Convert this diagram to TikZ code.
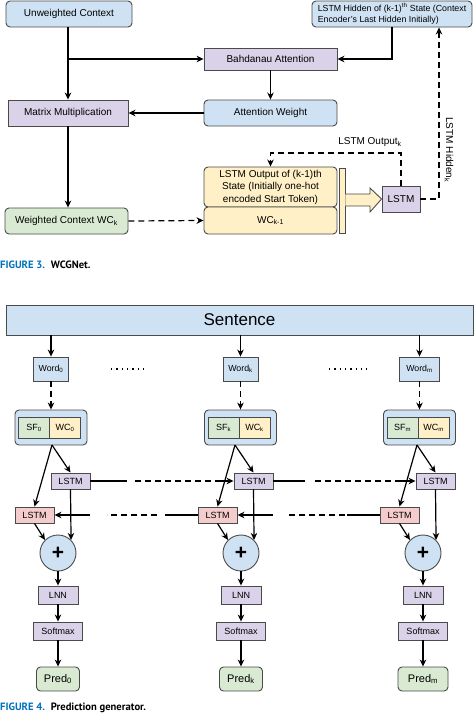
\documentclass[tikz,border=0pt]{standalone}
\usepackage{fontspec}
\setmainfont{Liberation Sans}
\newfontfamily\capfont{PT Sans}
\usetikzlibrary{arrows.meta,calc}
\definecolor{cblue}{HTML}{CFE2F3}
\definecolor{cpurple}{HTML}{D9D2E9}
\definecolor{cgreen}{HTML}{D9EAD3}
\definecolor{cyellow}{HTML}{FFF0C8}
\definecolor{cpink}{HTML}{F4CCCC}
\definecolor{bord}{HTML}{4A4A4A}
\definecolor{capblue}{RGB}{0,114,188}
\tikzset{
  bx/.style={draw=bord, line width=0.9pt, inner sep=0pt, align=center, font=\fontsize{10}{12.5}\selectfont},
  rbx/.style={bx, rounded corners=4pt},
  blu/.style={fill=cblue}, pur/.style={fill=cpurple}, grn/.style={fill=cgreen},
  yel/.style={fill=cyellow}, pnk/.style={fill=cpink},
  ln/.style={line width=1.2pt, black},
  arr/.style={ln, -{Stealth[length=7pt,width=6.5pt,inset=2.2pt]}},
  dl/.style={ln, dash pattern=on 6pt off 4pt},
  darr/.style={arr, dash pattern=on 6pt off 4pt},
  lbl/.style={font=\fontsize{10}{12}\selectfont, inner sep=0pt},
  capstyle/.style={anchor=west, inner sep=0pt, font=\capfont\bfseries\fontsize{10.6}{12}\selectfont}
}
\begin{document}
\begin{tikzpicture}[x=1pt,y=-1pt]
\useasboundingbox (0,0) rectangle (474,723);
% ---------------- Figure 3 ----------------
\node[rbx,blu,minimum width=126pt,minimum height=26pt] (uc) at (69,14) {Unweighted Context};
\node[rbx,blu,minimum width=160pt,minimum height=26pt,font=\fontsize{8.8}{11}\selectfont,align=left] (lh) at (392,14) {LSTM Hidden of (k-1)\textsuperscript{th} State (Context\\Encoder's Last Hidden Initially)};
\node[bx,pur,minimum width=133pt,minimum height=22pt] (ba) at (270.5,59) {Bahdanau Attention};
\node[bx,pur,minimum width=120pt,minimum height=26pt] (mm) at (68,113) {Matrix Multiplication};
\node[rbx,blu,minimum width=133pt,minimum height=26pt] (aw) at (270.5,113) {Attention Weight};
\node[rbx,grn,minimum width=123pt,minimum height=26pt] (wc) at (66.5,221) {Weighted Context WC\textsubscript{k}};
\node[rbx,yel,minimum width=133pt,minimum height=40pt] (lo) at (270.5,187) {LSTM Output of (k-1)th\\State (Initially one-hot\\encoded Start Token)};
\node[rbx,yel,minimum width=133pt,minimum height=27pt] (wk) at (270.5,220.5) {WC\textsubscript{k-1}};
\node[bx,yel,minimum width=6pt,minimum height=65pt] (bar) at (342,200.5) {};
\node[bx,pur,minimum width=38pt,minimum height=26pt] (ls) at (401,199) {LSTM};
\draw[draw=bord,fill=cyellow,line width=0.9pt] (bar.east |- 0,194) -- (370,194) -- (370,188) -- (ls.west) -- (370,212) -- (370,206) -- (bar.east |- 0,206);
\coordinate (ucb) at (68,27);
\draw[arr] (ucb) -- (mm.north);
\draw[arr] (ucb) |- (ba.west);
\draw[arr] (lh.south) |- (ba.east);
\draw[arr] (ba.south) -- (aw.north);
\draw[arr] (aw.west) -- (mm.east);
\draw[arr] (mm.south) -- (mm.south |- wc.north);
\draw[darr] (wc.east) -- (wk.west);
\coordinate (lo1) at (401,153);
\draw[darr] (ls.north) -- (lo1) -| (lo.north);
\node[lbl] (lok) at (370,142) {LSTM Output\textsubscript{k}};
\coordinate (lh1) at (439,199);
\draw[darr] (ls.east) -- (lh1) -- (lh1 |- lh.south);
\node[lbl,rotate=-90] (lhk) at (449,150) {LSTM Hidden\textsubscript{k}};
\node[capstyle] (cap3) at (0,265) {\textcolor{capblue}{FIGURE 3.}\hspace{6pt}WCGNet.};
% ---------------- Figure 4 ----------------
\node[bx,blu,minimum width=467pt,minimum height=30pt,font=\fontsize{17}{20}\selectfont] (sent) at (239.5,320) {Sentence};
\draw[line width=1.2pt,dash pattern=on 1.3pt off 4pt] (111,369) -- (148,369);
\draw[line width=1.2pt,dash pattern=on 1.3pt off 4pt] (329,369) -- (367,369);
\foreach \n/\gx/\cx/\ww/\pw in {0/51/58/35/43, k/240.5/241/35/43, m/419.5/423/40/50}{
  \node[bx,blu,minimum width=\ww pt,minimum height=24pt,font=\fontsize{8.8}{10}\selectfont] (w\n) at (\gx,369) {Word\textsubscript{\n}};
  \draw[arr] (sent.south -| w\n.north) -- (w\n.north);
  \node[rbx,blu,minimum width=72pt,minimum height=35pt] (g\n) at (\gx,427.5) {};
  \node[bx,grn,minimum width=31pt,minimum height=21pt,font=\fontsize{9}{10}\selectfont] (sf\n) at (\gx-17,427.5) {SF\textsubscript{\n}};
  \node[bx,yel,minimum width=31pt,minimum height=21pt,font=\fontsize{9}{10}\selectfont] (wc\n) at (\gx+14,427.5) {WC\textsubscript{\n}};
  \draw[darr] (w\n.south) -- (g\n.north);
  \node[bx,pur,minimum width=39pt,minimum height=16pt,font=\fontsize{9}{10}\selectfont] (u\n) at (\cx+12.5,481) {LSTM};
  \node[bx,pnk,minimum width=39pt,minimum height=16pt,font=\fontsize{9}{10}\selectfont] (l\n) at (\cx-23.5,515) {LSTM};
  \node[draw=bord,line width=0.9pt,fill=cblue,circle,minimum size=36pt,inner sep=0pt,font=\bfseries\fontsize{21}{21}\selectfont] (c\n) at (\cx,553) {+};
  \node[bx,pur,minimum width=40pt,minimum height=18pt,font=\fontsize{9}{10}\selectfont] (n\n) at (\cx,595) {LNN};
  \node[bx,pur,minimum width=49pt,minimum height=18pt,font=\fontsize{9}{10}\selectfont] (s\n) at (\cx,631) {Softmax};
  \node[rbx,grn,minimum width=\pw pt,minimum height=24pt,font=\fontsize{11}{12}\selectfont] (p\n) at (\cx,679) {Pred\textsubscript{\n}};
  \coordinate (v\n) at (\cx-6,445);
  \draw[arr] (v\n) -- (l\n.north);
  \draw[arr] (v\n) -- (u\n.north);
  \draw[arr] (u\n.south) -- (c\n.north east);
  \draw[arr] (l\n.south) -- (c\n.north west);
  \draw[arr] (c\n.south) -- (n\n.north);
  \draw[arr] (n\n.south) -- (s\n.north);
  \draw[arr] (s\n.south) -- (p\n.north);
}
% upper row forward connectors
\coordinate (ua1) at (127,481); \coordinate (ua2) at (135,481); \coordinate (ua3) at (211,481); \coordinate (ua4) at (215,481);
\draw[ln] (u0.east) -- (ua1); \draw[dl] (ua2) -- (ua3); \draw[arr] (ua4) -- (uk.west);
\coordinate (ub1) at (305,481); \coordinate (ub2) at (315,481); \coordinate (ub3) at (391,481); \coordinate (ub4) at (395,481);
\draw[ln] (uk.east) -- (ub1); \draw[dl] (ub2) -- (ub3); \draw[arr] (ub4) -- (um.west);
% lower row backward connectors
\coordinate (la1) at (165,515); \coordinate (la2) at (157,515); \coordinate (la3) at (107,515); \coordinate (la4) at (90,515);
\draw[ln] (lk.west) -- (la1); \draw[dl] (la2) -- (la3); \draw[arr] (la4) -- (l0.east);
\coordinate (lb1) at (347,515); \coordinate (lb2) at (345,515); \coordinate (lb3) at (288,515); \coordinate (lb4) at (273,515);
\draw[ln] (lm.west) -- (lb1); \draw[dl] (lb2) -- (lb3); \draw[arr] (lb4) -- (lk.east);
\node[capstyle] (cap4) at (0,708) {\textcolor{capblue}{FIGURE 4.}\hspace{6pt}Prediction generator.};
\end{tikzpicture}
\end{document}
